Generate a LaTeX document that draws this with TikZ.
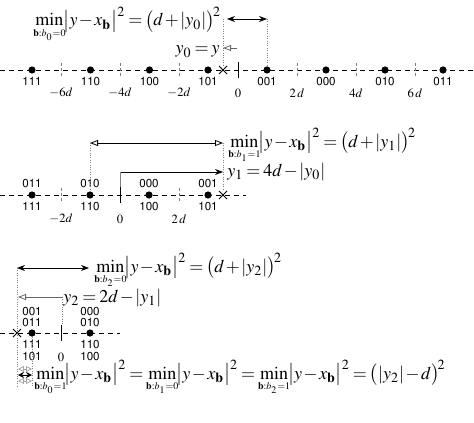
\documentclass[tikz,border=0pt]{standalone}
\usepackage[T1]{fontenc}
\usepackage{mathptmx}
\usepackage[scaled=0.92]{helvet}
\usetikzlibrary{arrows.meta, shapes.misc}
\medmuskip=1.5mu
\thickmuskip=3mu
\newcommand{\minb}[2]{\min_{\scriptscriptstyle\mathbf{b}:b_{#1}=#2}\!}
\tikzstyle{axis} = [thin, dash pattern=on 2.6pt off 1.9pt]
\tikzstyle{tickmark} = [thin, gray, dash pattern=on 1.5pt off 1pt]
\tikzstyle{zerotick} = [thin, black]
\tikzstyle{pt} = [circle, fill=black, inner sep=0pt, minimum size=3.6pt]
\tikzstyle{cross} = [cross out, draw=black, thin, inner sep=0pt, minimum size=3.6pt]
\tikzstyle{bits} = [font=\fontsize{6.3}{7}\sffamily, inner sep=0pt]
\tikzstyle{dlabel} = [font=\fontsize{6.3}{7}\selectfont, inner sep=0pt]
\tikzstyle{eq} = [font=\fontsize{9}{11}\selectfont, inner sep=0pt]
\tikzstyle{guide} = [very thin, gray, densely dotted]
\tikzstyle{arrow} = [thin, -{Stealth[length=4pt,width=3pt]}]
\tikzstyle{dimline} = [thin, {Stealth[length=4pt,width=3pt]}-{Stealth[length=4pt,width=3pt]}]
\tikzstyle{openarrow} = [thin, gray!80!black, -{Triangle[open,length=4pt,width=3pt]}]
\tikzstyle{opendim} = [thin, {Triangle[open,length=4pt,width=3pt]}-{Triangle[open,length=4pt,width=3pt]}]
\begin{document}
\begin{tikzpicture}[x=0.5pt, y=-0.5pt]
    \useasboundingbox (0,0) rectangle (474,422);

    % first stage: b0
    \draw [axis] (0,70) -- (474,70);
    \draw [tickmark] (61,63) -- (61,77);
    \draw [tickmark] (120,63) -- (120,77);
    \draw [tickmark] (179,63) -- (179,77);
    \draw [zerotick] (238,62) -- (238,78);
    \draw [tickmark] (297,63) -- (297,77);
    \draw [tickmark] (356,63) -- (356,77);
    \draw [tickmark] (415,63) -- (415,77);
    \node (a111) [pt] at (32,70) {};
    \node (a110) [pt] at (90.5,70) {};
    \node (a100) [pt] at (149.5,70) {};
    \node (a101) [pt] at (208,70) {};
    \node (a001) [pt] at (267,70) {};
    \node (a000) [pt] at (326,70) {};
    \node (a010) [pt] at (385,70) {};
    \node (a011) [pt] at (443,70) {};
    \node (ax) [cross] at (223,70) {};
    \node (la111) [bits] at (32,81) {111};
    \node (la110) [bits] at (90.5,81) {110};
    \node (la100) [bits] at (149.5,81) {100};
    \node (la101) [bits] at (208,81) {101};
    \node (la001) [bits] at (267,81) {001};
    \node (la000) [bits] at (326,81) {000};
    \node (la010) [bits] at (385,81) {010};
    \node (la011) [bits] at (443,81) {011};
    \node (dm6) [dlabel] at (61,93) {$-6d$};
    \node (dm4) [dlabel] at (120,93) {$-4d$};
    \node (dm2) [dlabel] at (179,93) {$-2d$};
    \node (d0) [dlabel] at (238,93) {$0$};
    \node (dp2) [dlabel] at (297,93) {$2\,d$};
    \node (dp4) [dlabel] at (356,93) {$4d$};
    \node (dp6) [dlabel] at (415,93) {$6\,d$};
    \node (eqa) [eq, anchor=base west] at (33,26)
    {$\displaystyle\minb{0}{0}\bigl|y-x_{\mathbf{b}}\bigr|^2=\bigl(d+|y_0|\bigr)^{\!2}$};
    \coordinate (ma1) at (227,19);
    \coordinate (ma2) at (267,19);
    \coordinate (ma0) at (223,19);
    \draw [dimline] (ma1) -- (ma2);
    \draw [guide] (ma0) -- (ax);
    \draw [guide] (ma2) -- (a001);
    \node (ya) [eq, anchor=base east] at (220,54) {$y_0=y$};
    \coordinate (ya1) at (237,48);
    \coordinate (ya2) at (223,48);
    \draw [openarrow] (ya1) -- (ya2);

    % second stage: b1
    \draw [axis] (0,195) -- (246,195);
    \draw [tickmark] (61,188) -- (61,202);
    \draw [zerotick] (120,187) -- (120,203);
    \draw [tickmark] (179,188) -- (179,202);
    \node (b1) [pt] at (32,195) {};
    \node (b2) [pt] at (90,195) {};
    \node (b3) [pt] at (149,195) {};
    \node (b4) [pt] at (208,195) {};
    \node (bx) [cross] at (223,195) {};
    \node (lb011) [bits] at (32,183) {011};
    \node (lb010) [bits] at (90,183) {010};
    \node (lb000) [bits] at (149,183) {000};
    \node (lb001) [bits] at (208,183) {001};
    \node (lb111) [bits] at (32,206) {111};
    \node (lb110) [bits] at (90,206) {110};
    \node (lb100) [bits] at (149,206) {100};
    \node (lb101) [bits] at (208,206) {101};
    \node (em2) [dlabel] at (61,219) {$-2d$};
    \node (e0) [dlabel] at (120,219) {$0$};
    \node (ep2) [dlabel] at (179,219) {$2\,d$};
    \node (eqb) [eq, anchor=base west] at (228,147)
    {$\displaystyle\minb{1}{1}\bigl|y-x_{\mathbf{b}}\bigr|^2=\bigl(d+|y_1|\bigr)^{\!2}$};
    \coordinate (mb1) at (90,143);
    \coordinate (mb2) at (223,143);
    \draw [opendim] (mb1) -- (mb2);
    \draw [guide] (mb1) -- (b2);
    \draw [guide] (mb2) -- (bx);
    \node (yb) [eq, anchor=base west] at (227,176) {$y_1=4d-|y_0|$};
    \coordinate (yb1) at (120,172);
    \coordinate (yb2) at (223,172);
    \coordinate (yb0) at (120,187);
    \draw [arrow] (yb1) -- (yb2);
    \draw [very thin, gray] (yb1) -- (yb0);

    % third stage: b2
    \draw [axis] (0,333) -- (120,333);
    \draw [zerotick] (61,325) -- (61,341);
    \node (c1) [pt] at (32,333) {};
    \node (c2) [pt] at (90,333) {};
    \node (cx) [cross] at (17,333) {};
    \node (lc001) [bits] at (32,311) {001};
    \node (lc011) [bits] at (32,322) {011};
    \node (lc000) [bits] at (90,311) {000};
    \node (lc010) [bits] at (90,322) {010};
    \node (lc111) [bits] at (32,344) {111};
    \node (lc101) [bits] at (32,356) {101};
    \node (lc110) [bits] at (90,344) {110};
    \node (lc100) [bits] at (90,356) {100};
    \node (f0) [dlabel] at (61,357) {$0$};
    \node (eqc) [eq, anchor=base west] at (94,272)
    {$\displaystyle\minb{2}{0}\bigl|y-x_{\mathbf{b}}\bigr|^2=\bigl(d+|y_2|\bigr)^{\!2}$};
    \coordinate (mc1) at (17,268);
    \coordinate (mc2) at (89,268);
    \coordinate (mc0) at (17,386);
    \draw [dimline] (mc1) -- (mc2);
    \draw [guide] (mc1) -- (mc0);
    \node (yc) [eq, anchor=base west] at (63,302) {$y_2=2d-|y_1|$};
    \coordinate (yc1) at (62,297);
    \coordinate (yc2) at (18,297);
    \coordinate (yc0) at (62,325);
    \draw [openarrow] (yc1) -- (yc2);
    \draw [guide] (yc1) -- (yc0);
    \coordinate (md0) at (32,386);
    \draw [guide] (c1) -- (md0);
    \coordinate (s1) at (18,369);
    \coordinate (s2) at (32,369);
    \coordinate (s3) at (18,375);
    \coordinate (s4) at (32,375);
    \coordinate (s5) at (18,381);
    \coordinate (s6) at (32,381);
    \draw [thin, gray!70, {Triangle[open,length=3pt,width=3pt]}-{Triangle[open,length=3pt,width=3pt]}] (s1) -- (s2);
    \draw [thin, {Stealth[length=3pt,width=3pt]}-{Stealth[length=3pt,width=3pt]}] (s3) -- (s4);
    \draw [thin, gray!70, {Triangle[open,length=3pt,width=3pt]}-{Triangle[open,length=3pt,width=3pt]}] (s5) -- (s6);
    \node (eqd) [eq, anchor=base west] at (34,379)
    {$\displaystyle\minb{0}{1}\bigl|y-x_{\mathbf{b}}\bigr|^2=\minb{1}{0}\bigl|y-x_{\mathbf{b}}\bigr|^2=\minb{2}{1}\bigl|y-x_{\mathbf{b}}\bigr|^2=\bigl(|y_2|-d\bigr)^{\!2}$};
\end{tikzpicture}
\end{document}
